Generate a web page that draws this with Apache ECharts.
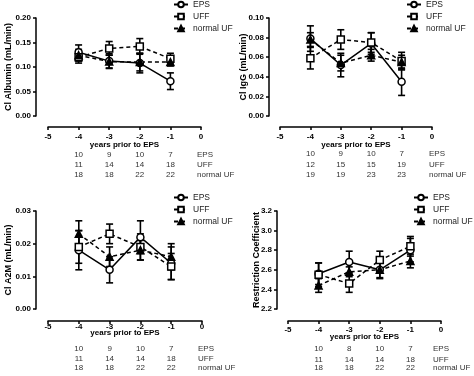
<!DOCTYPE html>
<html>
<head>
<meta charset="utf-8">
<script src="https://cdn.jsdelivr.net/npm/echarts@6/dist/echarts.min.js"></script>
<style>
  html, body { margin: 0; padding: 0; background: #fff; }
  #main { width: 474px; height: 376px; }
</style>
</head>
<body>
<div id="main"></div>
<script>
const years = [-4, -3, -2, -1];
const groups = ['EPS', 'UFF', 'normal UF'];

// Cl Albumin (mL/min)
const albuminEPS = [0.130, 0.112, 0.108, 0.071];
const albuminEPSErr = [0.015, 0.015, 0.020, 0.017];
const albuminUFF = [0.120, 0.138, 0.142, 0.117];
const albuminUFFErr = [0.012, 0.014, 0.016, 0.011];
const albuminNormal = [0.124, 0.111, 0.110, 0.110];
const albuminNormalErr = [0.012, 0.013, 0.018, 0.008];

// Cl IgG (mL/min)
const iggEPS = [0.079, 0.052, 0.074, 0.035];
const iggEPSErr = [0.013, 0.012, 0.011, 0.014];
const iggUFF = [0.059, 0.078, 0.075, 0.056];
const iggUFFErr = [0.011, 0.010, 0.010, 0.009];
const iggNormal = [0.078, 0.054, 0.062, 0.055];
const iggNormalErr = [0.007, 0.008, 0.006, 0.007];

// Cl A2M (mL/min)
const a2mEPS = [0.018, 0.012, 0.022, 0.014];
const a2mEPSErr = [0.006, 0.004, 0.005, 0.005];
const a2mUFF = [0.019, 0.023, 0.019, 0.013];
const a2mUFFErr = [0.005, 0.003, 0.004, 0.004];
const a2mNormal = [0.023, 0.016, 0.018, 0.016];
const a2mNormalErr = [0.004, 0.003, 0.003, 0.004];

// Restriction Coefficient
const rcEPS = [2.56, 2.68, 2.60, 2.80];
const rcEPSErr = [0.11, 0.11, 0.09, 0.12];
const rcUFF = [2.55, 2.46, 2.70, 2.84];
const rcUFFErr = [0.12, 0.09, 0.09, 0.10];
const rcNormal = [2.44, 2.58, 2.60, 2.69];
const rcNormalErr = [0.07, 0.05, 0.08, 0.07];

// patient numbers under each panel
const nEPS = [10, 9, 10, 7];
const nUFF = [11, 14, 14, 18];
const nNormal = [18, 18, 22, 22];
const nIggUFF = [12, 15, 15, 19];
const nIggNormal = [19, 19, 23, 23];
const nRcEPS = [10, 8, 10, 7];

const FONT = 'Liberation Sans, Arial, sans-serif';

const panels = [
  {
    yName: 'Cl Albumin (mL/min)', yMin: 0, yMax: 0.2, yStep: 0.05, digits: 2,
    means: [albuminEPS, albuminUFF, albuminNormal],
    errs: [albuminEPSErr, albuminUFFErr, albuminNormalErr],
    counts: [nEPS, nUFF, nNormal],
    grid: { left: 48, top: 18, width: 153, height: 98 },
    yOffset: 12, yGap: 23, xOffset: 11, xLabelMargin: 6, xNameGap: 14,
    countOffsets: [39, 49, 59], rowGap: -4,
    legend: { left: 173, top: 0 }
  },
  {
    yName: 'Cl IgG (mL/min)', yMin: 0, yMax: 0.1, yStep: 0.02, digits: 2,
    means: [iggEPS, iggUFF, iggNormal],
    errs: [iggEPSErr, iggUFFErr, iggNormalErr],
    counts: [nEPS, nIggUFF, nIggNormal],
    grid: { left: 280, top: 18, width: 152, height: 98 },
    yOffset: 11, yGap: 21, xOffset: 11, xLabelMargin: 6, xNameGap: 14,
    countOffsets: [38, 49, 59], rowGap: -3,
    legend: { left: 406, top: 0 }
  },
  {
    yName: 'Cl A2M (mL/min)', yMin: 0, yMax: 0.03, yStep: 0.01, digits: 2,
    means: [a2mEPS, a2mUFF, a2mNormal],
    errs: [a2mEPSErr, a2mUFFErr, a2mNormalErr],
    counts: [nEPS, nUFF, nNormal],
    grid: { left: 48, top: 211, width: 154, height: 98 },
    yOffset: 12, yGap: 23, xOffset: 12, xLabelMargin: 2, xNameGap: 8,
    countOffsets: [40, 50, 59], rowGap: -4,
    legend: { left: 173, top: 193 }
  },
  {
    yName: 'Restriction Coefficient', yMin: 2.2, yMax: 3.2, yStep: 0.2, digits: 1,
    means: [rcEPS, rcUFF, rcNormal],
    errs: [rcEPSErr, rcUFFErr, rcNormalErr],
    counts: [nRcEPS, nUFF, nNormal],
    grid: { left: 288, top: 211, width: 153, height: 98 },
    yOffset: 11, yGap: 16, xOffset: 12, xLabelMargin: 5, xNameGap: 12,
    countOffsets: [40, 51, 59], rowGap: -8,
    legend: { left: 413, top: 193 }
  }
];

const styles = [
  { symbol: 'circle', fill: '#fff', dash: 'solid' },
  { symbol: 'rect', fill: '#fff', dash: [4, 3] },
  { symbol: 'triangle', fill: '#000', dash: [4, 3] }
];

function errorBars(xi, yi, means, errs) {
  return {
    type: 'custom',
    xAxisIndex: xi,
    yAxisIndex: yi,
    silent: true,
    z: 2,
    data: years.map((x, k) => [x, means[k], errs[k]]),
    renderItem: function (params, api) {
      const x = api.value(0), y = api.value(1), e = api.value(2);
      const top = api.coord([x, y + e]);
      const bot = api.coord([x, y - e]);
      const w = 3.5;
      const st = { stroke: '#000', lineWidth: 1.6 };
      return {
        type: 'group',
        children: [
          { type: 'line', shape: { x1: top[0], y1: top[1], x2: bot[0], y2: bot[1] }, style: st },
          { type: 'line', shape: { x1: top[0] - w, y1: top[1], x2: top[0] + w, y2: top[1] }, style: st },
          { type: 'line', shape: { x1: bot[0] - w, y1: bot[1], x2: bot[0] + w, y2: bot[1] }, style: st }
        ]
      };
    }
  };
}

const grids = [], xAxes = [], yAxes = [], series = [], legends = [];

panels.forEach((p, pi) => {
  grids.push(Object.assign({ outerBoundsMode: 'none', containLabel: false }, p.grid));

  const xi = xAxes.length;
  xAxes.push({
    type: 'value', gridIndex: pi, min: -5, max: 0, interval: 1,
    position: 'bottom', offset: p.xOffset,
    axisLine: { show: true, onZero: false, lineStyle: { color: '#000', width: 1.5 } },
    axisTick: { show: true, length: 3, lineStyle: { color: '#000', width: 1.5 } },
    splitLine: { show: false },
    axisLabel: { color: '#000', fontWeight: 'bold', fontSize: 8, fontFamily: FONT, margin: p.xLabelMargin },
    name: 'years prior to EPS', nameLocation: 'middle', nameGap: p.xNameGap,
    nameMoveOverlap: false,
    nameTextStyle: { color: '#000', fontWeight: 'bold', fontSize: 8, fontFamily: FONT }
  });

  // rows of patient numbers drawn as label-only axes
  p.counts.forEach((row, gi) => {
    xAxes.push({
      type: 'value', gridIndex: pi, min: -5, max: 0, interval: 1,
      position: 'bottom', offset: p.countOffsets[gi],
      axisLine: { show: false, onZero: false }, axisTick: { show: false }, splitLine: { show: false },
      axisLabel: {
        margin: 0, verticalAlign: 'middle', fontSize: 8, color: '#333', fontFamily: FONT,
        formatter: v => {
          const k = years.indexOf(Math.round(v));
          return k < 0 ? '' : String(row[k]);
        }
      },
      name: groups[gi], nameLocation: 'end', nameGap: p.rowGap,
      nameMoveOverlap: false,
      nameTextStyle: { fontSize: 8, color: '#333', fontFamily: FONT, align: 'left', verticalAlign: 'middle' }
    });
  });

  yAxes.push({
    type: 'value', gridIndex: pi, min: p.yMin, max: p.yMax, interval: p.yStep,
    position: 'left', offset: p.yOffset,
    axisLine: { show: true, onZero: false, lineStyle: { color: '#000', width: 1.5 } },
    axisTick: { show: true, length: 3, lineStyle: { color: '#000', width: 1.5 } },
    splitLine: { show: false },
    axisLabel: {
      color: '#000', fontWeight: 'bold', fontSize: 8, fontFamily: FONT, margin: 5,
      formatter: v => v.toFixed(p.digits)
    },
    name: p.yName, nameLocation: 'middle', nameGap: p.yGap,
    nameMoveOverlap: false,
    nameTextStyle: { color: '#000', fontWeight: 'bold', fontSize: 9, fontFamily: FONT }
  });

  p.means.forEach((m, gi) => {
    series.push(errorBars(xi, pi, m, p.errs[gi]));
  });
  p.means.forEach((m, gi) => {
    const s = styles[gi];
    series.push({
      name: groups[gi],
      type: 'line',
      xAxisIndex: xi,
      yAxisIndex: pi,
      data: years.map((x, k) => [x, m[k]]),
      symbol: s.symbol,
      symbolSize: 7,
      showAllSymbol: true,
      z: 3,
      lineStyle: { color: '#000', width: 1.5, type: s.dash },
      itemStyle: { color: s.fill, borderColor: '#000', borderWidth: 1.5 },
      emphasis: { disabled: true }
    });
  });

  legends.push({
    orient: 'vertical', left: p.legend.left, top: p.legend.top, padding: 0,
    itemWidth: 14, itemHeight: 7, itemGap: 3,
    selectedMode: false,
    data: groups,
    textStyle: { fontSize: 8.5, color: '#222', fontFamily: FONT }
  });
});

const chart = echarts.init(document.getElementById('main'), null, { renderer: 'canvas' });
chart.setOption({
  backgroundColor: '#fff',
  animation: false,
  grid: grids,
  xAxis: xAxes,
  yAxis: yAxes,
  legend: legends,
  series: series
});
</script>
</body>
</html>
